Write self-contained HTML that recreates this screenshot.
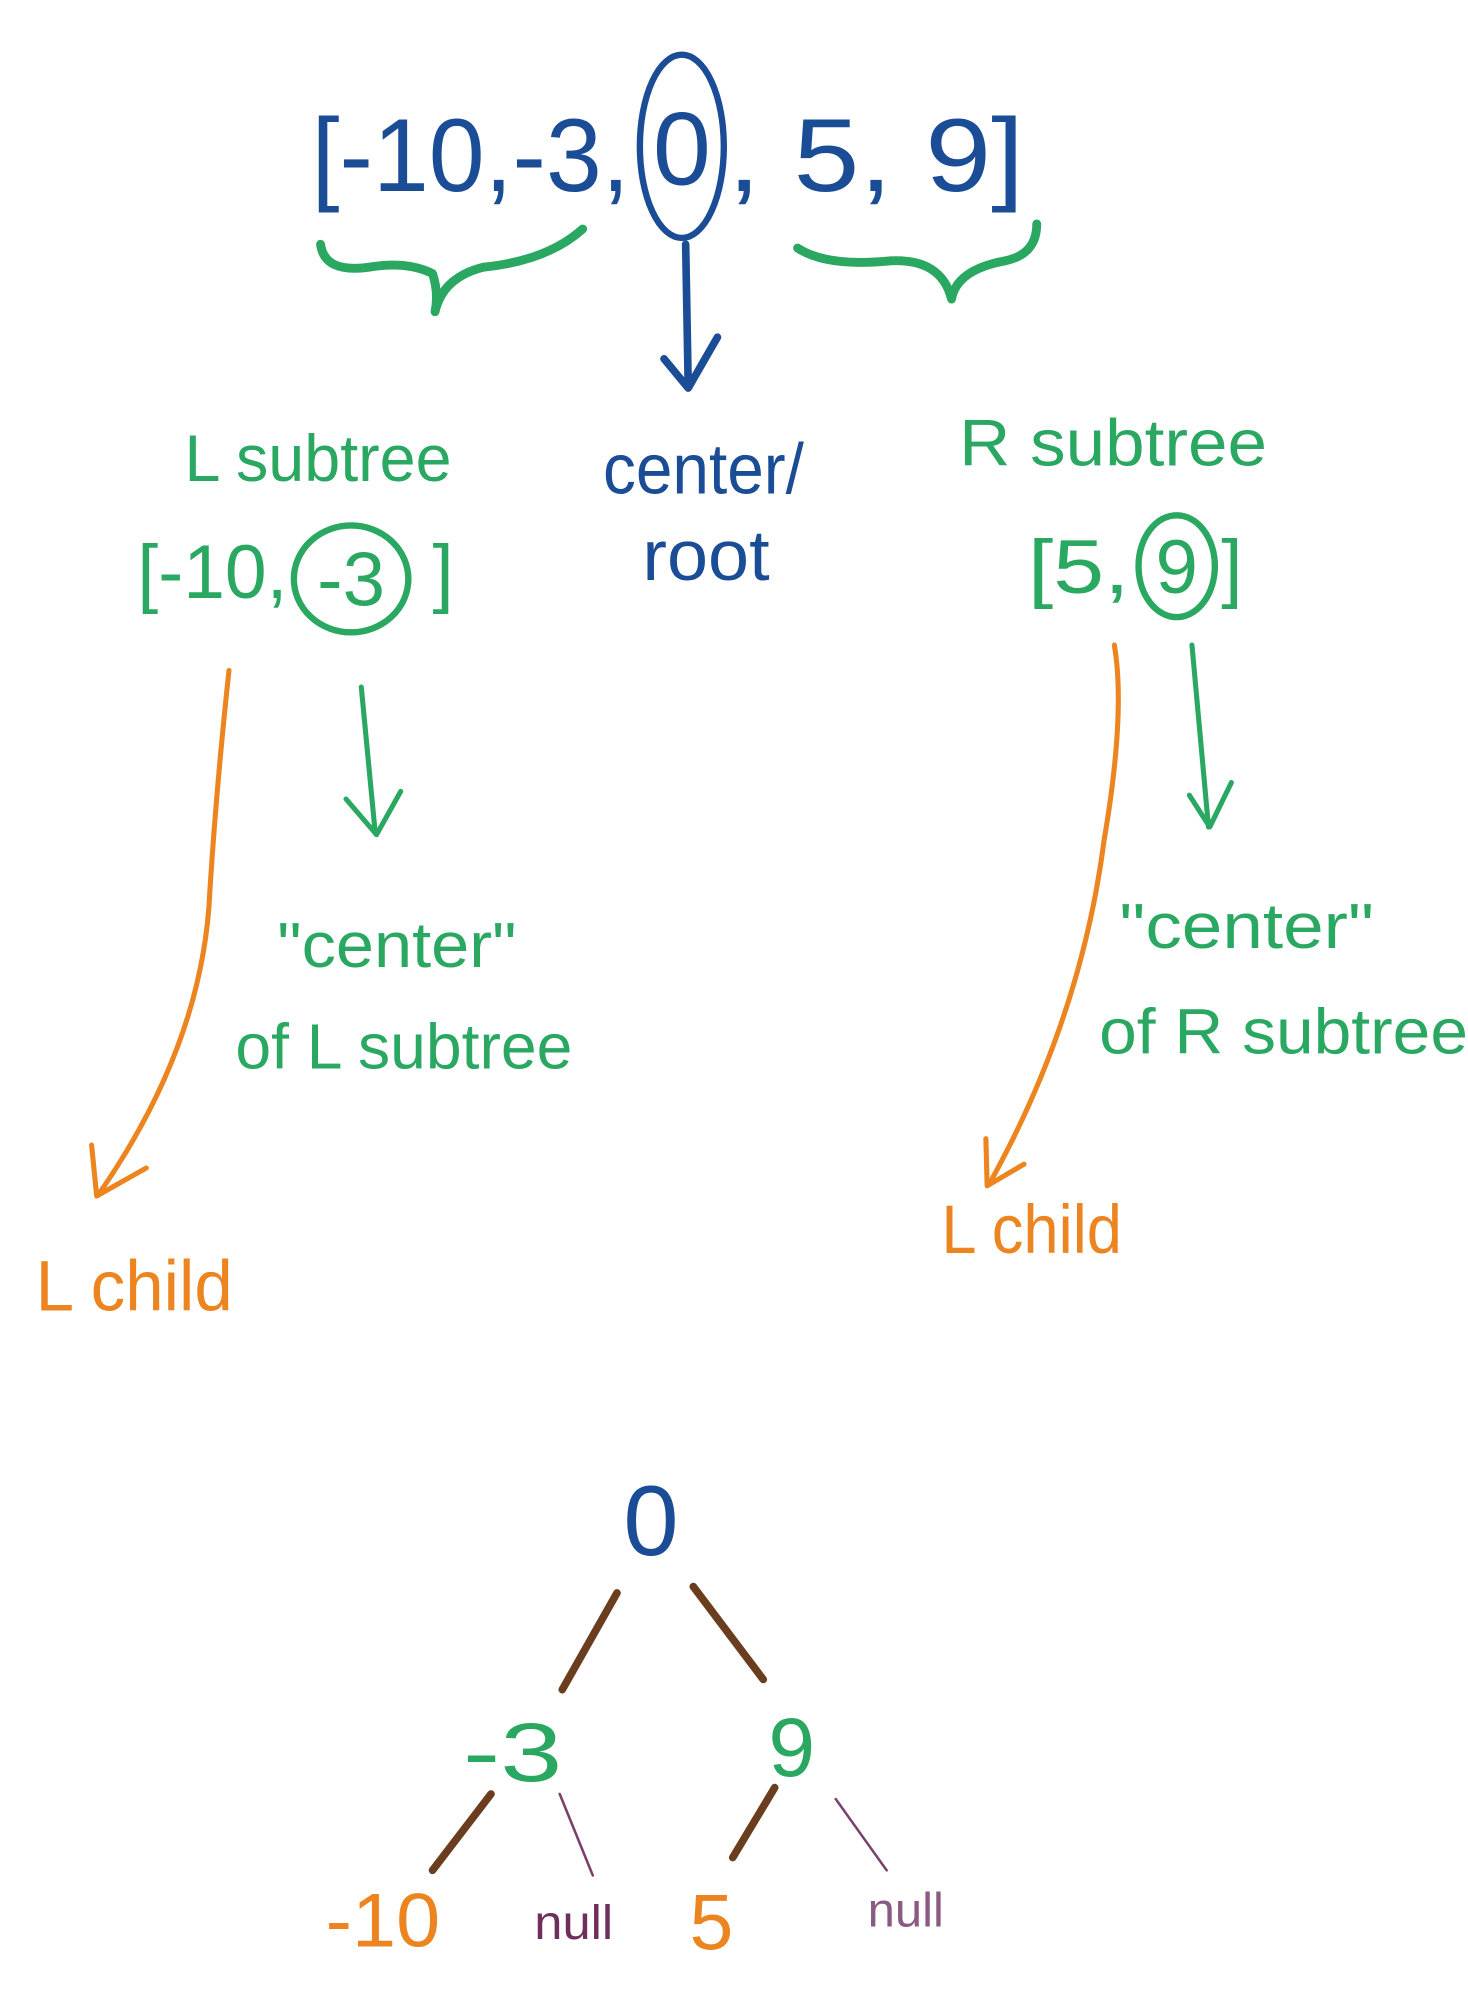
<!DOCTYPE html>
<html><head><meta charset="utf-8"><style>
html,body{margin:0;padding:0;background:#fff;}
svg{display:block;}
text{font-family:"Liberation Sans",sans-serif;}
</style></head><body>
<svg width="1468" height="1995" viewBox="0 0 1154 1568" preserveAspectRatio="none" xmlns="http://www.w3.org/2000/svg">
<g fill="none" stroke-linecap="round" stroke-linejoin="round">
<!-- top array -->
<text x="245" y="150" font-size="82" fill="#1b4c96" stroke="none" textLength="250" lengthAdjust="spacingAndGlyphs">[-10,-3,</text>
<text x="536" y="145" font-size="82" fill="#1b4c96" stroke="none" text-anchor="middle">0</text>
<text x="572" y="150" font-size="82" fill="#1b4c96" stroke="none" textLength="233" lengthAdjust="spacingAndGlyphs">, 5, 9]</text>
<ellipse cx="536" cy="115" rx="33" ry="72" stroke="#1b4c96" stroke-width="5"/>
<!-- braces -->
<path d="M252,192 Q255,215 290,210 Q320,205 340,215 Q345,230 342,245 Q348,218 380,210 Q430,205 458,180" stroke="#2aa862" stroke-width="7"/>
<path d="M627,195 Q650,210 700,205 Q740,203 748,235 Q752,212 790,205 Q815,200 815,176" stroke="#2aa862" stroke-width="7"/>
<!-- blue arrow -->
<path d="M539,192 L541,303 M522,282 L541,305 L564,265" stroke="#1b4c96" stroke-width="6"/>
<!-- labels -->
<text x="145" y="378" font-size="52" fill="#2aa862" stroke="none" textLength="210" lengthAdjust="spacingAndGlyphs">L subtree</text>
<text x="108" y="470" font-size="60" fill="#2aa862" stroke="none" textLength="118" lengthAdjust="spacingAndGlyphs">[-10,</text>
<text x="276" y="476" font-size="60" fill="#2aa862" stroke="none" text-anchor="middle">-3</text>
<text x="340" y="470" font-size="60" fill="#2aa862" stroke="none">]</text>
<ellipse cx="276" cy="455" rx="45" ry="42" stroke="#2aa862" stroke-width="5"/>
<text x="474" y="388" font-size="56" fill="#1b4c96" stroke="none" textLength="158" lengthAdjust="spacingAndGlyphs">center/</text>
<text x="505" y="456" font-size="56" fill="#1b4c96" stroke="none" textLength="100" lengthAdjust="spacingAndGlyphs">root</text>
<text x="754" y="366" font-size="52" fill="#2aa862" stroke="none" textLength="242" lengthAdjust="spacingAndGlyphs">R subtree</text>
<text x="808" y="466" font-size="60" fill="#2aa862" stroke="none" textLength="80" lengthAdjust="spacingAndGlyphs">[5,</text>
<text x="925" y="466" font-size="60" fill="#2aa862" stroke="none" text-anchor="middle">9</text>
<text x="960" y="466" font-size="60" fill="#2aa862" stroke="none">]</text>
<ellipse cx="925" cy="445" rx="30" ry="40" stroke="#2aa862" stroke-width="5"/>
<!-- left orange -->
<path d="M180,527 Q170,620 165,700 Q160,820 78,938 M72,900 L76,940 L115,918" stroke="#ec8420" stroke-width="4"/>
<text x="28" y="1030" font-size="56" fill="#ec8420" stroke="none" textLength="155" lengthAdjust="spacingAndGlyphs">L child</text>
<path d="M284,540 L295,655 M272,628 L296,656 L315,622" stroke="#2aa862" stroke-width="4"/>
<text x="218" y="760" font-size="50" fill="#2aa862" stroke="none" textLength="188" lengthAdjust="spacingAndGlyphs">"center"</text>
<text x="185" y="840" font-size="50" fill="#2aa862" stroke="none" textLength="265" lengthAdjust="spacingAndGlyphs">of L subtree</text>
<!-- right orange -->
<path d="M876,507 Q885,560 868,660 Q850,800 778,930 M775,895 L776,932 L805,915" stroke="#ec8420" stroke-width="4"/>
<text x="740" y="985" font-size="54" fill="#ec8420" stroke="none" textLength="142" lengthAdjust="spacingAndGlyphs">L child</text>
<path d="M937,507 L950,650 M935,625 L951,650 L968,615" stroke="#2aa862" stroke-width="4"/>
<text x="880" y="745" font-size="50" fill="#2aa862" stroke="none" textLength="200" lengthAdjust="spacingAndGlyphs">"center"</text>
<text x="864" y="828" font-size="50" fill="#2aa862" stroke="none" textLength="290" lengthAdjust="spacingAndGlyphs">of R subtree</text>
<!-- tree -->
<text x="490" y="1222" font-size="78" fill="#1b4c96" stroke="none">0</text>
<path d="M485,1252 L442,1328" stroke="#6b3d1f" stroke-width="6"/>
<path d="M545,1247 L600,1320" stroke="#6b3d1f" stroke-width="6"/>
<text x="364" y="1400" font-size="66" fill="#2aa862" stroke="none" textLength="78" lengthAdjust="spacingAndGlyphs">-3</text>
<text x="604" y="1396" font-size="66" fill="#2aa862" stroke="none">9</text>
<path d="M386,1410 L340,1470" stroke="#6b3d1f" stroke-width="6"/>
<path d="M440,1410 L466,1474" stroke="#7a3f6a" stroke-width="2"/>
<path d="M609,1405 L576,1460" stroke="#6b3d1f" stroke-width="6"/>
<path d="M657,1414 L697,1470" stroke="#7a3f6a" stroke-width="2"/>
<text x="256" y="1530" font-size="60" fill="#ec8420" stroke="none" textLength="90" lengthAdjust="spacingAndGlyphs">-10</text>
<text x="420" y="1524" font-size="38" fill="#6e2f5c" stroke="none" textLength="62" lengthAdjust="spacingAndGlyphs">null</text>
<text x="542" y="1532" font-size="62" fill="#ec8420" stroke="none">5</text>
<text x="682" y="1514" font-size="38" fill="#8a5a82" stroke="none" textLength="60" lengthAdjust="spacingAndGlyphs">null</text>
</g>
</svg>
</body></html>
